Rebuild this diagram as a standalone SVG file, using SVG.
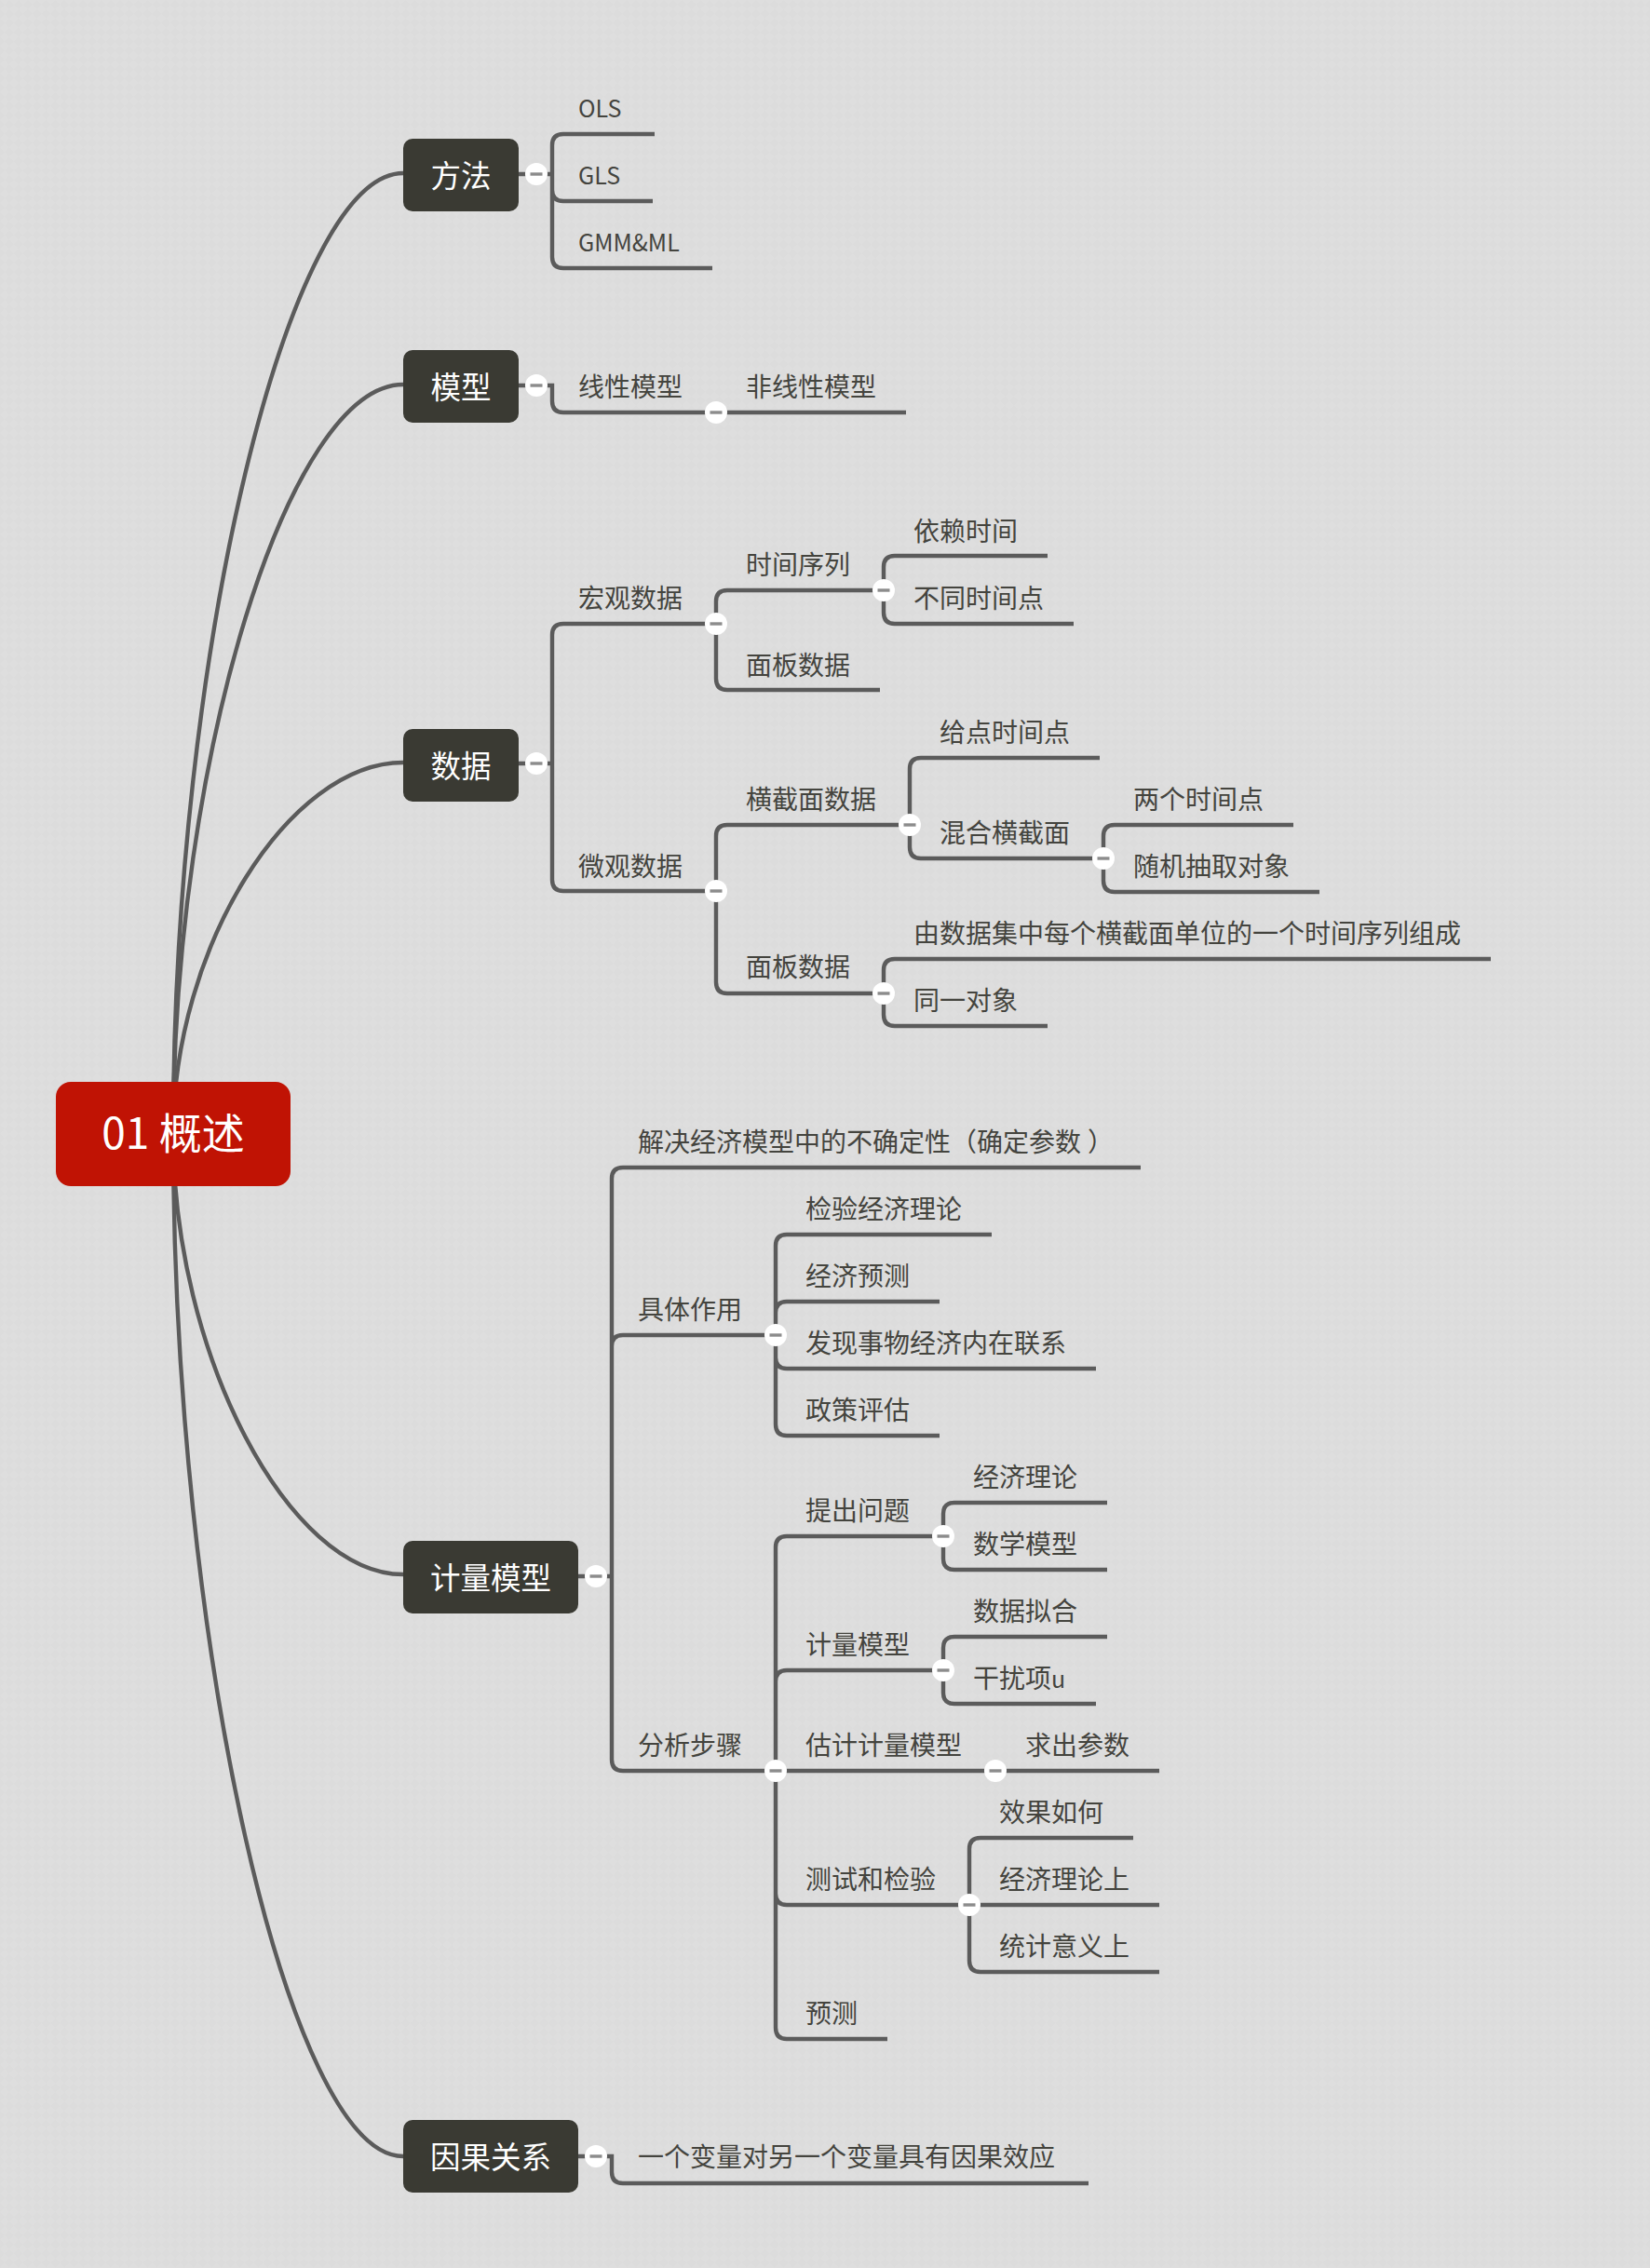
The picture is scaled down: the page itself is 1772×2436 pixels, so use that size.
<svg xmlns="http://www.w3.org/2000/svg" width="1772" height="2436" viewBox="0 0 1772 2436">
<defs>
<pattern id="bg" width="14" height="14" patternUnits="userSpaceOnUse" patternTransform="rotate(45)"><rect width="14" height="14" fill="#dedede"/><rect width="7" height="7" fill="#dcdcdc"/><rect x="7" y="7" width="7" height="7" fill="#dcdcdc"/></pattern>
<g id="col"><circle r="12" fill="#fff"/><rect x="-6.5" y="-1.7" width="13" height="3.4" fill="#8c8c8c"/></g>
</defs>
<style>
text{font-family:"Noto Sans CJK SC","Noto Sans",sans-serif;}
.l{font-size:28px;fill:#44443e}
.s{font-size:25px;fill:#44443e}
.t{font-size:32.5px;fill:#fff;text-anchor:middle}
.r{font-size:46px;fill:#fff;text-anchor:middle}
#connectors path{fill:none;stroke:#5b5b5b;stroke-width:4.4}
</style>
<rect width="1772" height="2436" fill="url(#bg)"/>
<g id="connectors">
<path d="M186 1218C186 702 310 186 433 186"/>
<path d="M186 1218C186 815 310 413 433 413"/>
<path d="M186 1218C186 1018 310 819 433 819"/>
<path d="M186 1218C186 1454 310 1691 433 1691"/>
<path d="M186 1218C186 1767 310 2316 433 2316"/>
<path d="M557 187H593M593 187V156Q593 144 605 144H703M593 187V204Q593 216 605 216H701M593 187V276Q593 288 605 288H765"/>
<path d="M557 414H593V431Q593 443 605 443H973"/>
<path d="M557 820H593M593 820V682Q593 670 605 670H769M593 820V945Q593 957 605 957H769"/>
<path d="M769 670V646Q769 634 781 634H949M769 670V729Q769 741 781 741H945"/>
<path d="M949 634V609Q949 597 961 597H1125M949 634V658Q949 670 961 670H1153"/>
<path d="M769 957V898Q769 886 781 886H977M769 957V1055Q769 1067 781 1067H949"/>
<path d="M977 886V826Q977 814 989 814H1181M977 886V910Q977 922 989 922H1185"/>
<path d="M1185 922V898Q1185 886 1197 886H1389M1185 922V946Q1185 958 1197 958H1417"/>
<path d="M949 1067V1042Q949 1030 961 1030H1601M949 1067V1090Q949 1102 961 1102H1125"/>
<path d="M621 1693H657M657 1693V1266Q657 1254 669 1254H1225M657 1693V1446Q657 1434 669 1434H833M657 1693V1890Q657 1902 669 1902H833"/>
<path d="M833 1434V1338Q833 1326 845 1326H1065M833 1434V1410Q833 1398 845 1398H1009M833 1434V1458Q833 1470 845 1470H1177M833 1434V1530Q833 1542 845 1542H1009"/>
<path d="M833 1902V1662Q833 1650 845 1650H1013M833 1902V1806Q833 1794 845 1794H1013M833 1902H1245M833 1902V2034Q833 2046 845 2046H1041M833 1902V2178Q833 2190 845 2190H953"/>
<path d="M1013 1650V1626Q1013 1614 1025 1614H1189M1013 1650V1674Q1013 1686 1025 1686H1189"/>
<path d="M1013 1794V1770Q1013 1758 1025 1758H1189M1013 1794V1818Q1013 1830 1025 1830H1177"/>
<path d="M1041 2046V1986Q1041 1974 1053 1974H1217M1041 2046H1245M1041 2046V2106Q1041 2118 1053 2118H1245"/>
<path d="M621 2316H657V2333Q657 2345 669 2345H1169"/>
</g>
<g id="root"><rect x="60" y="1162" width="252" height="112" rx="16" fill="#c01304"/><text class="r" x="186" y="1234">01 概述</text></g>
<g id="n-fangfa"><rect x="433" y="149" width="124" height="78" rx="10" fill="#3a3a33"/><text class="t" x="495" y="201">方法</text><use href="#col" x="576" y="187"/></g>
<g id="n-moxing"><rect x="433" y="376" width="124" height="78" rx="10" fill="#3a3a33"/><text class="t" x="495" y="428">模型</text><use href="#col" x="576" y="414"/></g>
<g id="n-shuju"><rect x="433" y="783" width="124" height="78" rx="10" fill="#3a3a33"/><text class="t" x="495" y="835">数据</text><use href="#col" x="576" y="820"/></g>
<g id="n-jiliang"><rect x="433" y="1655" width="188" height="78" rx="10" fill="#3a3a33"/><text class="t" x="527" y="1707">计量模型</text><use href="#col" x="640" y="1693"/></g>
<g id="n-yinguo"><rect x="433" y="2277" width="188" height="78" rx="10" fill="#3a3a33"/><text class="t" x="527" y="2329">因果关系</text><use href="#col" x="640" y="2316"/></g>
<g id="n-ols"><text class="s" x="621" y="126">OLS</text></g>
<g id="n-gls"><text class="s" x="621" y="198">GLS</text></g>
<g id="n-gmm"><text class="s" x="621" y="270">GMM&amp;ML</text></g>
<g id="n-xx"><text class="l" x="621" y="426">线性模型</text><use href="#col" x="769" y="443"/></g>
<g id="n-fxx"><text class="l" x="801" y="426">非线性模型</text></g>
<g id="n-hg"><text class="l" x="621" y="653">宏观数据</text><use href="#col" x="769" y="670"/></g>
<g id="n-sjxl"><text class="l" x="801" y="617">时间序列</text><use href="#col" x="949" y="634"/></g>
<g id="n-mb1"><text class="l" x="801" y="725">面板数据</text></g>
<g id="n-ylsj"><text class="l" x="981" y="581">依赖时间</text></g>
<g id="n-btsj"><text class="l" x="981" y="653">不同时间点</text></g>
<g id="n-wg"><text class="l" x="621" y="941">微观数据</text><use href="#col" x="769" y="957"/></g>
<g id="n-hjm"><text class="l" x="801" y="869">横截面数据</text><use href="#col" x="977" y="886"/></g>
<g id="n-gd"><text class="l" x="1009" y="797">给点时间点</text></g>
<g id="n-hh"><text class="l" x="1009" y="905">混合横截面</text><use href="#col" x="1185" y="922"/></g>
<g id="n-lg"><text class="l" x="1217" y="869">两个时间点</text></g>
<g id="n-sj"><text class="l" x="1217" y="941">随机抽取对象</text></g>
<g id="n-mb2"><text class="l" x="801" y="1049">面板数据</text><use href="#col" x="949" y="1067"/></g>
<g id="n-ysj"><text class="l" x="981" y="1013">由数据集中每个横截面单位的一个时间序列组成</text></g>
<g id="n-ty"><text class="l" x="981" y="1085">同一对象</text></g>
<g id="n-jj"><text class="l" x="685" y="1237">解决经济模型中的不确定性（确定参数<tspan dx="7">）</tspan></text></g>
<g id="n-jt"><text class="l" x="685" y="1417">具体作用</text><use href="#col" x="833" y="1434"/></g>
<g id="n-jy"><text class="l" x="865" y="1309">检验经济理论</text></g>
<g id="n-yc"><text class="l" x="865" y="1381">经济预测</text></g>
<g id="n-fx"><text class="l" x="865" y="1453">发现事物经济内在联系</text></g>
<g id="n-zc"><text class="l" x="865" y="1525">政策评估</text></g>
<g id="n-fb"><text class="l" x="685" y="1885">分析步骤</text><use href="#col" x="833" y="1902"/></g>
<g id="n-tc"><text class="l" x="865" y="1633">提出问题</text><use href="#col" x="1013" y="1650"/></g>
<g id="n-jjll"><text class="l" x="1045" y="1597">经济理论</text></g>
<g id="n-sx"><text class="l" x="1045" y="1669">数学模型</text></g>
<g id="n-jl"><text class="l" x="865" y="1777">计量模型</text><use href="#col" x="1013" y="1794"/></g>
<g id="n-nh"><text class="l" x="1045" y="1741">数据拟合</text></g>
<g id="n-gr"><text class="l" x="1045" y="1813">干扰项<tspan font-size="25">u</tspan></text></g>
<g id="n-gj"><text class="l" x="865" y="1885">估计计量模型</text><use href="#col" x="1069" y="1902"/></g>
<g id="n-qc"><text class="l" x="1101" y="1885">求出参数</text></g>
<g id="n-cs"><text class="l" x="865" y="2029">测试和检验</text><use href="#col" x="1041" y="2046"/></g>
<g id="n-xg"><text class="l" x="1073" y="1957">效果如何</text></g>
<g id="n-ll"><text class="l" x="1073" y="2029">经济理论上</text></g>
<g id="n-tj"><text class="l" x="1073" y="2101">统计意义上</text></g>
<g id="n-pred"><text class="l" x="865" y="2173">预测</text></g>
<g id="n-yg"><text class="l" x="685" y="2327">一个变量对另一个变量具有因果效应</text></g>
</svg>
